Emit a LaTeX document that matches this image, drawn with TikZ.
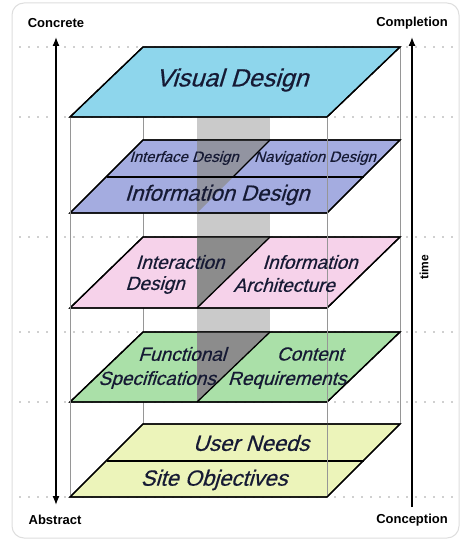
\documentclass[tikz,border=0pt]{standalone}
\usepackage{fontspec}
\setmainfont{Liberation Sans}
\newfontfamily\planefont{Liberation Sans}[FakeSlant=0.3, FakeBold=0.5]
\usetikzlibrary{arrows.meta}
\definecolor{visualc}{RGB}{142,214,236}
\definecolor{bluec}{RGB}{164,172,224}
\definecolor{pinkc}{RGB}{246,210,234}
\definecolor{greenc}{RGB}{170,224,168}
\definecolor{yellowc}{RGB}{236,244,186}
\definecolor{bandc}{RGB}{202,202,202}
\definecolor{darkbandc}{RGB}{140,140,140}
\definecolor{wirec}{RGB}{150,150,150}
\definecolor{dotc}{RGB}{160,160,160}
\definecolor{framec}{RGB}{222,222,222}
\definecolor{textc}{RGB}{22,26,52}
\tikzset{
  plane/.style={draw=black, line width=1.3pt, line join=miter},
  divider/.style={draw=black, line width=1.3pt},
  dotline/.style={dotc, line width=1.8pt, line cap=round, dash pattern=on 0pt off 9pt},
  wire/.style={wirec, line width=0.9pt},
  axis/.style={black, line width=1.3pt},
  corner/.style={font=\bfseries\fontsize{13}{15}\selectfont, inner sep=0pt},
  lbl/.style={text=textc, inner sep=0pt},
}
\newcommand{\pfs}[1]{\planefont\fontsize{#1}{#1}\selectfont}
\begin{document}
\begin{tikzpicture}[x=1pt,y=-1pt]
\useasboundingbox (0,0) rectangle (474,545);
\fill[white] (0,0) rectangle (474,545);
\draw[framec, line width=1pt, rounded corners=12pt] (12,3) rectangle (459,538);
% dotted guide lines
\foreach \yy in {47,117,237,332,402,497}
  \draw[dotline] (20,\yy) -- (456,\yy);
% axes
\coordinate (ltop) at (56,37);
\coordinate (lbot) at (56,505);
\coordinate (rtop) at (412,37);
\coordinate (rbot) at (412,507);
\draw[axis, {Latex[length=9pt,width=7pt]}-{Latex[length=9pt,width=7pt]}] (ltop) -- (lbot);
\draw[axis, -{Latex[length=9pt,width=7pt]}] (rbot) -- (rtop);
\node[corner] (concrete) at (56,23) {Concrete};
\node[corner] (completion) at (412,23) {Completion};
\node[corner] (abstract) at (55,520) {Abstract};
\node[corner] (conception) at (412,520) {Conception};
\node[corner, rotate=90, font=\bfseries\fontsize{12}{14}\selectfont] (time) at (424,267) {time};
% back wireframe
\draw[wire] (143,117) -- (143,424);
\draw[wire] (400,47) -- (400,424);
% gray band
\fill[bandc] (197,117) rectangle (270,332);
% Visual Design
\draw[plane, fill=visualc] (143,47) -- (400,47) -- (327,117) -- (70,117) -- cycle;
% Information design plane
\draw[plane, fill=bluec] (143,140) -- (400,140) -- (327,213) -- (70,213) -- cycle;
\fill[darkbandc, opacity=0.75] (197,140) -- (270,140) -- (197,213) -- cycle;
\draw[plane] (143,140) -- (400,140) -- (327,213) -- (70,213) -- cycle;
\draw[divider] (106.5,177) -- (363.5,177);
\draw[divider] (270,140) -- (233,177);
% Interaction plane
\draw[plane, fill=pinkc] (143,237) -- (400,237) -- (327,308) -- (70,308) -- cycle;
\fill[darkbandc] (197,237) -- (270,237) -- (197,308) -- cycle;
\draw[plane] (143,237) -- (400,237) -- (327,308) -- (70,308) -- cycle;
\draw[divider] (270,237) -- (197,308);
% Functional plane
\draw[plane, fill=greenc] (143,332) -- (400,332) -- (327,402) -- (70,402) -- cycle;
\fill[darkbandc] (197,332) -- (270,332) -- (197,402) -- cycle;
\draw[plane] (143,332) -- (400,332) -- (327,402) -- (70,402) -- cycle;
\draw[divider] (270,332) -- (197,402);
% Bottom plane
\draw[plane, fill=yellowc] (143,424) -- (400,424) -- (327,497) -- (70,497) -- cycle;
\draw[divider] (106.5,461) -- (363.5,461);
% front wireframe
\draw[wire] (70,117) -- (70,497);
\draw[wire] (327,117) -- (327,497);
\draw[plane] (143,47) -- (400,47) -- (327,117) -- (70,117) -- cycle;
\draw[plane] (143,424) -- (400,424) -- (327,497) -- (70,497) -- cycle;
% labels
\node[lbl, font=\pfs{25}] (visual) at (232,80) {Visual Design};
\node[lbl, font=\pfs{15}] (interface) at (184,158) {Interface Design};
\node[lbl, font=\pfs{15}] (navigation) at (315,158) {Navigation Design};
\node[lbl, font=\pfs{22}] (infodesign) at (217,195) {Information Design};
\node[lbl, font=\pfs{19}] (ia1) at (180,262) {Interaction};
\node[lbl, font=\pfs{19}] (ia2) at (155,285) {Design};
\node[lbl, font=\pfs{19}] (ar1) at (310,262) {Information};
\node[lbl, font=\pfs{19}] (ar2) at (284,285) {Architecture};
\node[lbl, font=\pfs{19}] (fs1) at (182,354) {Functional};
\node[lbl, font=\pfs{19}] (fs2) at (157,380) {Specifications};
\node[lbl, font=\pfs{19}] (cr1) at (310,354) {Content};
\node[lbl, font=\pfs{19}] (cr2) at (287,380) {Requirements};
\node[lbl, font=\pfs{22}] (userneeds) at (251,443) {User Needs};
\node[lbl, font=\pfs{22}] (siteobj) at (214,480) {Site Objectives};
\end{tikzpicture}
\end{document}
